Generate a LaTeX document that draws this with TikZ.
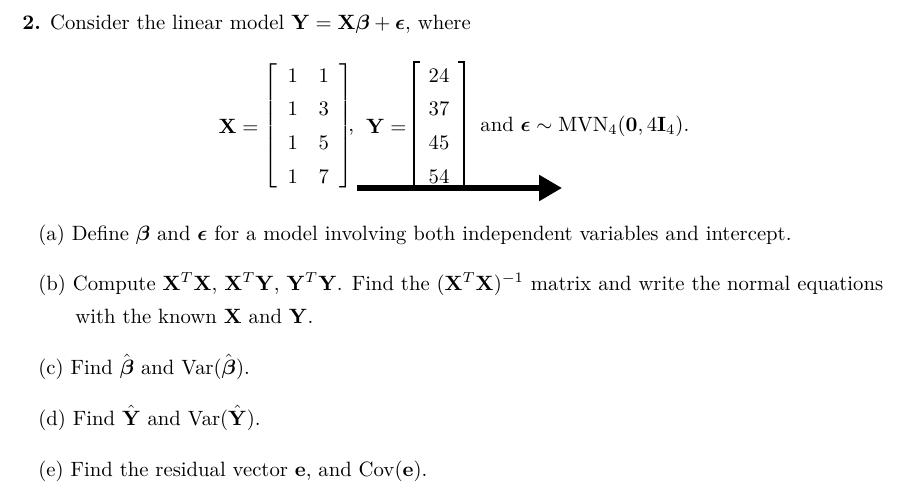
\documentclass[tikz,border=0pt]{standalone}
\usepackage{amsmath,amssymb}
\usetikzlibrary{arrows.meta}
\begin{document}
\begin{tikzpicture}[x=0.483pt,y=-0.483pt,
  txt/.style={anchor=base west,inner sep=0pt},
  ent/.style={anchor=base,inner sep=0pt},
  brk/.style={line width=0.55pt},
  bigarrow/.style={line width=2.5pt,-{Triangle[length=11pt,width=12pt]}}]
\useasboundingbox (0,0) rectangle (914,493);
\node[txt] (t1) at (22,29) {\textbf{2.} Consider the linear model $\mathbf{Y}=\mathbf{X}\boldsymbol{\beta}+\boldsymbol{\epsilon}$, where};
\node[anchor=east,inner sep=0pt] (xeq) at (259,126) {$\mathbf{X}=$};
\node[anchor=west,inner sep=0pt] (xm) at (263,126) {$\renewcommand\arraystretch{1.35}\left[\begin{array}{cc}1&1\\1&3\\1&5\\1&7\end{array}\right]$};
\node[txt] (comma) at (348,131) {,};
\node[anchor=east,inner sep=0pt] (yeq) at (407,126) {$\mathbf{Y}=$};
\foreach \v/\yy [count=\i] in {24/82,37/115,45/149,54/183}
  \node[ent] (y\i) at (439,\yy) {$\v$};
\draw[brk] (420,62) -- (414,62) -- (414,187);
\draw[brk] (458,62) -- (464,62) -- (464,187);
\node[txt] (eps) at (480,131) {and $\boldsymbol{\epsilon}\sim\mathrm{MVN}_4(\mathbf{0},4\mathbf{I}_4)$.};
\coordinate (as) at (357,188);
\coordinate (ae) at (562,188);
\draw[bigarrow] (as) -- (ae);
\node[txt] (a) at (38,240) {(a) Define $\boldsymbol{\beta}$ and $\boldsymbol{\epsilon}$ for a model involving both independent variables and intercept.};
\node[txt] (b) at (38,290) {(b) Compute $\mathbf{X}^T\mathbf{X}$, $\mathbf{X}^T\mathbf{Y}$, $\mathbf{Y}^T\mathbf{Y}$. Find the $(\mathbf{X}^T\mathbf{X})^{-1}$ matrix and write the normal equations};
\node[txt] (b2) at (75,323) {with the known $\mathbf{X}$ and $\mathbf{Y}$.};
\node[txt] (c) at (38,374) {(c) Find $\hat{\boldsymbol{\beta}}$ and $\mathrm{Var}(\hat{\boldsymbol{\beta}})$.};
\node[txt] (d) at (38,425) {(d) Find $\hat{\mathbf{Y}}$ and $\mathrm{Var}(\hat{\mathbf{Y}})$.};
\node[txt] (e) at (38,476) {(e) Find the residual vector $\mathbf{e}$, and $\mathrm{Cov}(\mathbf{e})$.};
\end{tikzpicture}
\end{document}
